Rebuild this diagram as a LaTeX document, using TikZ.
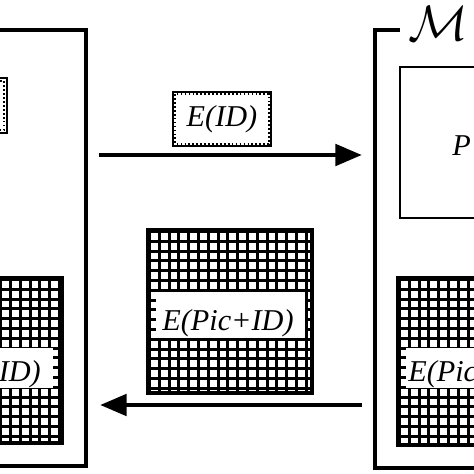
\documentclass[tikz,border=0pt]{standalone}
\usepackage{fontspec}
\setmainfont{Liberation Serif}
\usepackage{amsmath}
\usepackage{tikz}
\usetikzlibrary{positioning,arrows.meta}

% grid filled box: x1 y1 x2 y2 (pixels, y down)
\newcommand{\cellgrid}[4]{%
  \begin{scope}
    \clip (#1,#2) rectangle (#3,#4);
    \fill[white] (#1,#2) rectangle (#3,#4);
    \foreach \k in {0,...,18} {
      \draw[gridline] ({#1+1.5+\k*9.8},#2) -- ({#1+1.5+\k*9.8},#4);
      \draw[gridline] (#1,{#2+1.5+\k*9.8}) -- (#3,{#2+1.5+\k*9.8});
    }
  \end{scope}
  \draw[gridline] (#1,#2) rectangle (#3,#4);}

\begin{document}
\begin{tikzpicture}[x=0.025cm,y=-0.025cm,
  outer/.style={black,line width=3.5pt},
  thinbox/.style={black,line width=1.6pt},
  gridline/.style={black,line width=2.2pt},
  idframe/.style={draw=black,line width=1.2pt,fill=white},
  dotline/.style={black,line width=1.6pt,dash pattern=on 1.2pt off 1.6pt},
  flow/.style={black,line width=3.5pt,-{Triangle[length=19pt,width=15pt]}},
  lbl/.style={font=\fontsize{21.5}{26}\selectfont\itshape}]
\tikzstyle{every node}+=[inner sep=0pt]
\useasboundingbox (0,0) rectangle (474,474);
\clip (0,0) rectangle (474,474);

% left party
\draw [outer] (-20,30) -- (86,30) -- (86,466) -- (-20,466);
\draw [idframe] (-30,78) rectangle (7,133);
\draw [dotline] (-30,81) rectangle (4,130);
\cellgrid{-40}{278}{62}{443}
\fill [white] (-40,348) rectangle (53,388);
\node [lbl,anchor=base east] (tagLeft) at (41,381) {E(Pic+ID)};

% right party
\draw [outer] (400,30) -- (375,30) -- (375,468) -- (490,468);
\node [anchor=base west,font=\fontsize{24.88}{30}\selectfont] (mName) at (408,40) {\scalebox{1.42}{$\mathcal{M}$}};
\draw [thinbox] (400,67) rectangle (490,218);
\node [lbl,anchor=base west] (picP) at (452,155) {P};
\cellgrid{398}{278}{490}{445}
\fill [white] (406,348) rectangle (490,388);
\node [lbl,anchor=base west] (tagRight) at (408,381) {E(Pic+ID)};

% message sent
\node [idframe,lbl,minimum width=2.45cm,minimum height=1.35cm] (encId) at (222,119) {E(ID)};
\draw [dotline] ([shift={(3,3)}]encId.north west) rectangle ([shift={(-3,-3)}]encId.south east);
\coordinate (sendL) at (99,155);
\coordinate (sendR) at (362,155);
\draw [flow] (sendL) -- (sendR);

% message returned
\cellgrid{148}{230}{312}{393}
\fill [white] (156,292) rectangle (305,338);
\node [lbl,anchor=base] (tagMid) at (228,330) {E(Pic+ID)};
\coordinate (backR) at (362,405);
\coordinate (backL) at (100,405);
\draw [flow] (backR) -- (backL);
\end{tikzpicture}
\end{document}
